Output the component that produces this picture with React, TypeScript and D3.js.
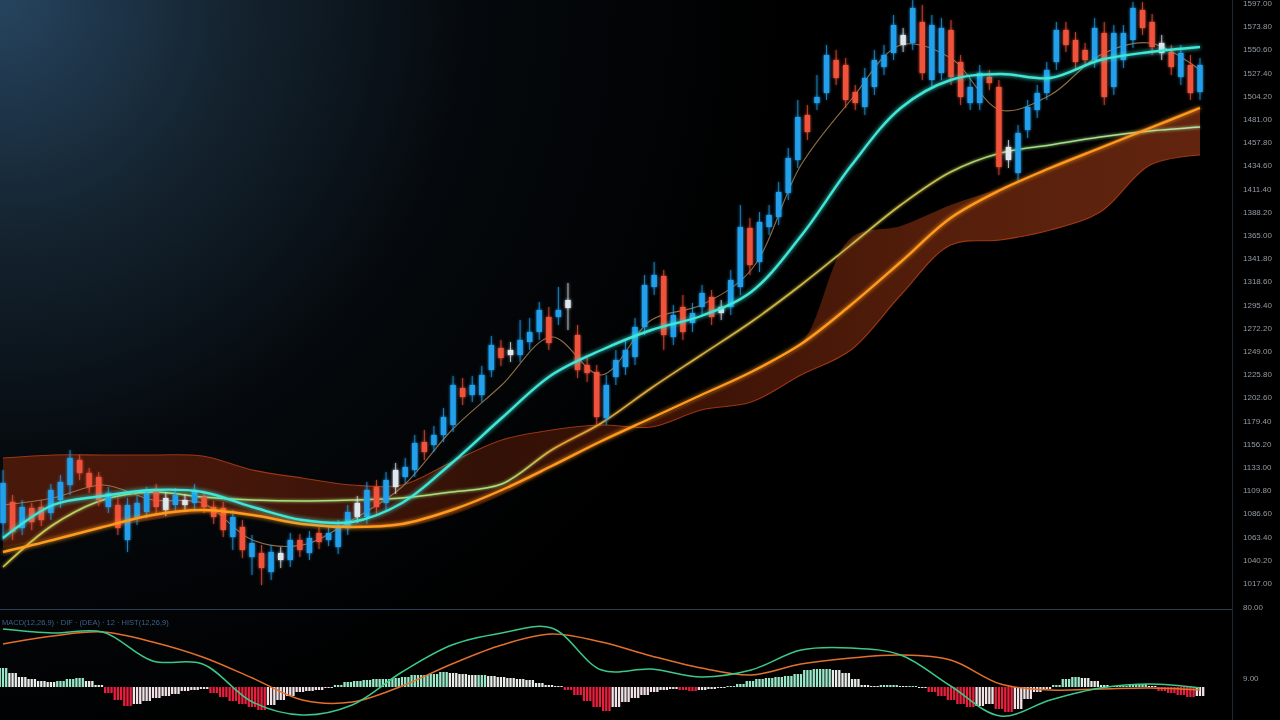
import React from "react";
import * as d3 from "d3";

// ---------- price candles ----------
const opens = [
  1077,1098,1072,1092,1093,1087,1100,1115,1140,1127,
  1123,1093,1095,1060,1082,1088,1110,1090,1095,1095,
  1097,1103,1093,1092,1063,1073,1043,1047,1028,1040,
  1040,1060,1047,1067,1060,1053,1072,1083,1083,1113,
  1097,1113,1123,1130,1158,1155,1165,1175,1212,1205,
  1205,1230,1252,1245,1245,1258,1268,1283,1283,1292,
  1265,1235,1228,1182,1223,1233,1243,1273,1313,1324,
  1263,1293,1277,1293,1303,1287,1293,1313,1372,1338,
  1373,1383,1407,1440,1485,1497,1507,1540,1535,1508,
  1493,1513,1533,1547,1555,1557,1578,1520,1527,1570,
  1538,1497,1497,1523,1513,1440,1427,1470,1490,1507,
  1538,1570,1560,1550,1540,1567,1513,1540,1560,1590,
  1578,1547,1548,1523,1535,1508,
];
const closes = [
  1117,1068,1093,1078,1080,1110,1118,1142,1127,1113,
  1100,1107,1072,1095,1097,1107,1093,1102,1105,1100,
  1110,1093,1083,1070,1083,1050,1057,1032,1048,1047,
  1060,1050,1062,1058,1067,1073,1088,1097,1110,1093,
  1120,1130,1133,1157,1148,1165,1183,1215,1203,1215,
  1225,1255,1242,1250,1260,1268,1290,1257,1290,1300,
  1230,1227,1183,1215,1240,1250,1273,1315,1325,1265,
  1285,1268,1287,1307,1283,1293,1320,1373,1335,1378,
  1385,1408,1442,1483,1468,1503,1545,1522,1500,1497,
  1522,1540,1545,1575,1565,1592,1527,1575,1572,1523,
  1503,1513,1527,1517,1433,1453,1467,1493,1507,1530,
  1570,1555,1538,1540,1572,1503,1567,1567,1592,1572,
  1553,1557,1533,1547,1507,1535,
];
const highs = [
  1130,1105,1100,1097,1100,1116,1125,1150,1145,1132,
  1128,1113,1102,1102,1104,1113,1116,1108,1112,1106,
  1116,1109,1099,1098,1090,1080,1065,1055,1055,1053,
  1067,1066,1069,1073,1073,1080,1095,1104,1118,1120,
  1128,1137,1142,1165,1170,1174,1192,1224,1222,1224,
  1234,1264,1260,1258,1280,1282,1298,1293,1313,1317,
  1275,1245,1235,1225,1250,1260,1282,1325,1338,1330,
  1295,1305,1297,1315,1310,1300,1330,1395,1382,1388,
  1395,1418,1452,1500,1495,1525,1555,1550,1542,1515,
  1532,1550,1555,1585,1572,1600,1595,1585,1582,1580,
  1545,1522,1535,1530,1520,1460,1475,1500,1515,1538,
  1578,1578,1568,1557,1582,1578,1575,1575,1598,1598,
  1586,1565,1555,1555,1545,1542,
];
const lows = [
  1060,1060,1065,1070,1074,1080,1092,1105,1120,1107,
  1094,1087,1065,1048,1075,1082,1086,1084,1089,1088,
  1090,1087,1076,1063,1050,1042,1025,1015,1020,1032,
  1033,1043,1040,1051,1054,1046,1065,1077,1076,1086,
  1090,1106,1116,1123,1140,1148,1158,1168,1195,1198,
  1198,1223,1234,1238,1238,1250,1260,1250,1275,1270,
  1222,1218,1175,1175,1215,1225,1235,1265,1305,1250,
  1255,1260,1268,1285,1275,1280,1285,1305,1325,1328,
  1365,1375,1400,1432,1460,1490,1500,1515,1492,1490,
  1485,1505,1525,1540,1548,1550,1520,1512,1520,1515,
  1495,1490,1490,1510,1425,1432,1417,1462,1482,1500,
  1530,1548,1530,1533,1532,1495,1505,1532,1552,1565,
  1545,1540,1525,1515,1500,1500,
];
// candles drawn pale (near-doji highlights)
const paleCandles = [17, 19, 29, 37, 41, 53, 59, 75, 94, 105, 121];

// ---------- overlay lines, 25 samples across the chart ----------
const maCyan = [1062,1095,1104,1110,1108,1093,1080,1078,1097,1137,1182,1225,1250,1270,1284,1308,1364,1434,1492,1520,1526,1522,1540,1548,1553];
const maOrange = [1048,1060,1073,1085,1090,1085,1076,1073,1076,1090,1110,1134,1159,1182,1205,1228,1256,1295,1338,1382,1410,1432,1452,1472,1492];
const maYellow = [1033,1075,1100,1108,1103,1100,1099,1100,1102,1108,1116,1150,1177,1212,1245,1278,1315,1355,1395,1428,1447,1455,1463,1469,1473];
const maTan = [1095,1102,1115,1100,1097,1060,1055,1080,1113,1170,1215,1263,1225,1280,1295,1330,1435,1500,1555,1542,1490,1505,1545,1557,1530];
const spanA = [1142,1145,1145,1145,1144,1130,1122,1115,1115,1138,1160,1170,1175,1173,1190,1198,1225,1250,1305,1355,1360,1370,1388,1435,1445];
const spanB = [1052,1062,1072,1080,1087,1085,1078,1073,1073,1085,1105,1132,1157,1180,1203,1228,1256,1362,1374,1395,1412,1434,1454,1474,1494];

// ---------- MACD panel ----------
const macdHist = [
  19,14,10,8,6,5,6,8,9,6,
  2,-6,-13,-19,-17,-14,-11,-9,-7,-4,
  -3,-2,-6,-10,-14,-17,-20,-23,-18,-13,
  -9,-5,-4,-3,-1,2,5,6,7,8,
  8,9,10,12,12,13,15,14,13,12,
  12,11,10,9,8,7,4,2,1,-3,
  -8,-14,-20,-24,-20,-15,-11,-8,-5,-3,
  -2,-3,-4,-3,-2,-1,1,3,6,8,
  9,10,11,13,17,18,18,17,14,8,
  2,1,2,2,1,1,0,-5,-9,-13,
  -17,-20,-19,-17,-22,-25,-22,-12,-5,-2,
  2,8,10,9,6,2,1,1,2,3,
  1,-4,-6,-8,-10,-9,
];
const macdLine = [58,54,55,26,23,-15,-28,-18,15,42,54,59,17,18,10,17,37,39,32,1,-29,-13,-1,3,-1];
const signalLine = [43,51,55,45,30,9,-13,-15,1,23,42,53,45,31,19,12,23,29,32,27,3,-3,-2,-1,-3];

// ---------- axis labels ----------
const priceTicks = [1597.0,1573.8,1550.6,1527.4,1504.2,1481.0,1457.8,1434.6,1411.4,1388.2,1365.0,1341.8,1318.6,1295.4,1272.2,1249.0,1225.8,1202.6,1179.4,1156.2,1133.0,1109.8,1086.6,1063.4,1040.2,1017.0];
const macdTicks = [80, 9];
const panelTitle = "MACD(12,26,9) · DIF · (DEA) · 12 · HIST(12,26,9)";

export default function App() {
  const W = 1280, H = 720;
  const N = opens.length;
  const x = d3.scaleLinear().domain([0, N - 1]).range([3, 1200]);
  const xs = d3.scaleLinear().domain([0, maCyan.length - 1]).range([3, 1200]);
  const y = d3.scaleLinear().domain([1017, 1597]).range([583, 3]);
  const m = d3.scaleLinear().domain([-33, 80]).range([720, 607]);

  const line = (vals: number[], sc: (v: number) => number) =>
    d3.line<number>().x((_, i) => xs(i)).y((v) => sc(v)).curve(d3.curveCatmullRom.alpha(0.5))(vals) || "";

  const cloud = d3.area<number>()
    .x((_, i) => xs(i))
    .y0((_, i) => y(spanA[i]))
    .y1((_, i) => y(spanB[i]))
    .curve(d3.curveCatmullRom.alpha(0.5))(spanA) || "";

  const bodyW = 5.4;
  const step = (x(1) - x(0)) / 3;
  const stripeW = step - 0.9;
  const pale = new Set(paleCandles);
  const font = "Liberation Sans, Arial, sans-serif";

  return (
    <svg width={W} height={H} style={{ position: "absolute", left: 0, top: 0, display: "block" }}>
      <defs>
        <radialGradient id="bg" cx="0" cy="0" r="780" gradientUnits="userSpaceOnUse">
          <stop offset="0" stopColor="#26445f" />
          <stop offset="0.3" stopColor="#14232f" />
          <stop offset="0.6" stopColor="#05090d" />
          <stop offset="1" stopColor="#000000" />
        </radialGradient>
        <linearGradient id="cloudFill" x1="0" y1="0" x2="1200" y2="0" gradientUnits="userSpaceOnUse">
          <stop offset="0" stopColor="#4e1a0a" />
          <stop offset="0.2" stopColor="#4a180a" />
          <stop offset="0.4" stopColor="#381206" />
          <stop offset="0.5" stopColor="#3a1206" />
          <stop offset="0.65" stopColor="#4a1808" />
          <stop offset="0.8" stopColor="#5e220c" />
          <stop offset="1" stopColor="#6a2810" />
        </linearGradient>
        <linearGradient id="ylw" x1="0" y1="0" x2="1200" y2="0" gradientUnits="userSpaceOnUse">
          <stop offset="0" stopColor="#d8c040" />
          <stop offset="0.1" stopColor="#a8e07a" />
          <stop offset="0.42" stopColor="#a8e07a" />
          <stop offset="0.47" stopColor="#e8a032" />
          <stop offset="0.6" stopColor="#d0b040" />
          <stop offset="0.78" stopColor="#c8c050" />
          <stop offset="0.84" stopColor="#98e080" />
          <stop offset="1" stopColor="#b8e0a0" />
        </linearGradient>
        <filter id="glow" filterUnits="userSpaceOnUse" x="0" y="0" width={W} height={H}>
          <feGaussianBlur stdDeviation="2.2" result="b" />
          <feMerge>
            <feMergeNode in="b" />
            <feMergeNode in="SourceGraphic" />
          </feMerge>
        </filter>
        <filter id="soft" filterUnits="userSpaceOnUse" x="0" y="0" width={W} height={H}>
          <feGaussianBlur stdDeviation="1.4" result="b" />
          <feMerge>
            <feMergeNode in="b" />
            <feMergeNode in="SourceGraphic" />
          </feMerge>
        </filter>
      </defs>

      <rect x={0} y={0} width={W} height={H} fill="#000" />
      <rect x={0} y={0} width={W} height={H} fill="url(#bg)" />

      {/* cloud */}
      <path d={cloud} fill="url(#cloudFill)" opacity={0.92} />
      <path d={line(spanA, y)} fill="none" stroke="#c24418" strokeWidth={1.1} opacity={0.75} />

      {/* slower lines */}
      <path d={line(maYellow, y)} fill="none" stroke="url(#ylw)" strokeWidth={1.6} filter="url(#soft)" />
      <path d={line(maTan, y)} fill="none" stroke="#a88050" strokeWidth={1.1} opacity={0.85} />

      {/* candles */}
      <g filter="url(#soft)">
        {opens.map((o, i) => {
          const c = closes[i];
          const up = c >= o;
          const col = pale.has(i) ? "#dfe8ee" : up ? "#23a0ec" : "#f0523a";
          const top = y(Math.max(o, c));
          const bot = y(Math.min(o, c));
          return (
            <g key={i}>
              <line x1={x(i)} x2={x(i)} y1={y(highs[i])} y2={y(lows[i])} stroke={col} strokeWidth={1} opacity={0.75} />
              <rect x={x(i) - bodyW / 2} y={top} width={bodyW} height={Math.max(1.5, bot - top)} fill={col} />
            </g>
          );
        })}
      </g>

      {/* main glowing lines */}
      <path d={line(maOrange, y)} fill="none" stroke="#ff9a1c" strokeWidth={2.4} filter="url(#glow)" />
      <path d={line(maCyan, y)} fill="none" stroke="#3fe6d6" strokeWidth={2.4} filter="url(#glow)" />

      {/* separators & right axis */}
      <line x1={0} x2={1232} y1={609.5} y2={609.5} stroke="#2c3e56" strokeWidth={1.2} />
      <line x1={1232.5} x2={1232.5} y1={0} y2={H} stroke="#1f2730" strokeWidth={1} />
      {priceTicks.map((t) => (
        <text key={t} x={1243} y={y(t) + 3} fontSize={8} fontFamily={font} fill="#949ba3">
          {t.toFixed(2)}
        </text>
      ))}
      {macdTicks.map((t) => (
        <text key={"m" + t} x={1243} y={m(t) + 3} fontSize={8} fontFamily={font} fill="#949ba3">
          {t.toFixed(2)}
        </text>
      ))}

      {/* MACD panel */}
      <text x={2} y={625} fontSize={7.5} fontFamily={font} fill="#3f6288">
        {panelTitle}
      </text>
      <g>
        {macdHist.map((h, i) => {
          const prev = i > 0 ? macdHist[i - 1] : h;
          let col: string;
          if (h >= 0) col = h >= prev ? "#9ae8c8" : "#e8eee9";
          else col = h <= prev ? "#e8203e" : "#f2e2e6";
          const y0 = m(0);
          const y1 = m(h);
          const top = Math.min(y0, y1);
          const hh = Math.max(1, Math.abs(y1 - y0));
          return (
            <g key={i}>
              {[-1, 0, 1].map((s) => (
                <rect key={s} x={x(i) + s * step - stripeW / 2} y={top} width={stripeW} height={hh} fill={col} />
              ))}
            </g>
          );
        })}
      </g>
      <path d={line(signalLine, m)} fill="none" stroke="#e2702c" strokeWidth={1.5} />
      <path d={line(macdLine, m)} fill="none" stroke="#3cc88a" strokeWidth={1.5} />
    </svg>
  );
}
